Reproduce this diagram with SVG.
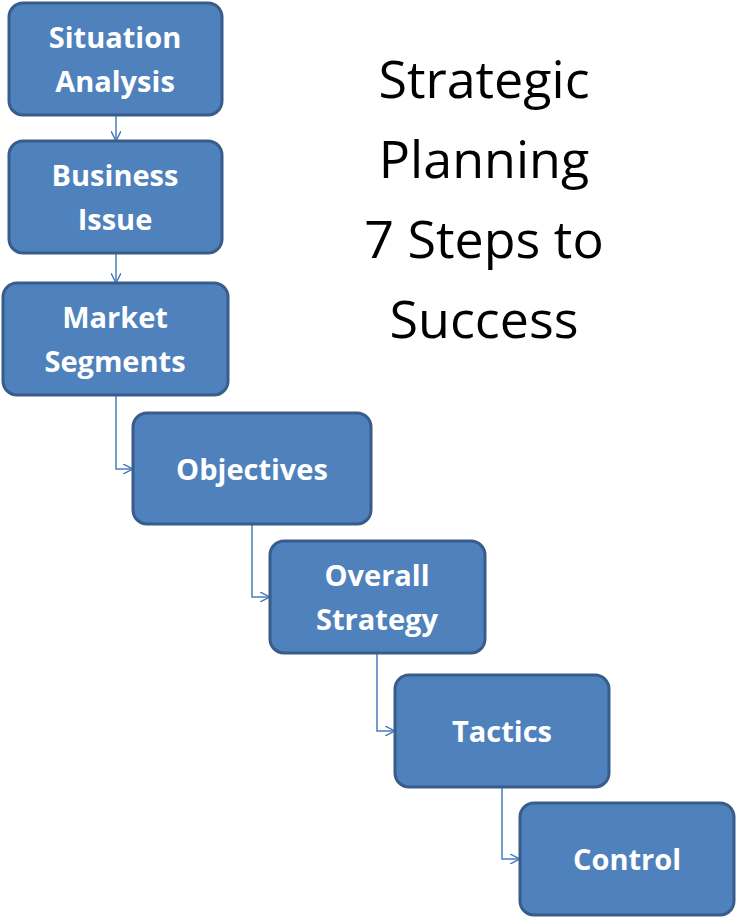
<svg xmlns="http://www.w3.org/2000/svg" width="737" height="919" viewBox="0 0 737 919">
<style>
.b{fill:#4F81BD;stroke:#385D8A;stroke-width:3}
.t{fill:#fff;font-family:"Open Sans","Liberation Sans",sans-serif;font-weight:bold;font-size:29px;text-anchor:middle}
.c{fill:none;stroke:#4A7EBB;stroke-width:1.5}
.h{font-family:"Open Sans","Liberation Sans",sans-serif;font-size:52px;text-anchor:middle;fill:#000}
</style>
<defs><marker id="a" viewBox="0 0 10 10" refX="9" refY="5" markerWidth="10" markerHeight="10" markerUnits="userSpaceOnUse" orient="auto"><path d="M0,0L10,5L0,10" fill="none" stroke="#4A7EBB" stroke-width="1.5"/></marker></defs>
<rect width="737" height="919" fill="#fff"/>
<g id="connectors">
<path class="c" d="M116,115V140" marker-end="url(#a)"/>
<path class="c" d="M116,253V282" marker-end="url(#a)"/>
<path class="c" d="M116,395V469H132" marker-end="url(#a)"/>
<path class="c" d="M252,524V597H269" marker-end="url(#a)"/>
<path class="c" d="M377,653V731H394" marker-end="url(#a)"/>
<path class="c" d="M502,787V859H519" marker-end="url(#a)"/>
</g>
<g id="n1"><rect class="b" x="9" y="3" width="213" height="112" rx="14"/><text class="t" x="115" y="48">Situation</text><text class="t" x="115" y="92">Analysis</text></g>
<g id="n2"><rect class="b" x="9" y="141" width="213" height="112" rx="14"/><text class="t" x="115" y="186">Business</text><text class="t" x="115" y="230">Issue</text></g>
<g id="n3"><rect class="b" x="3" y="283" width="225" height="112" rx="14"/><text class="t" x="115" y="328">Market</text><text class="t" x="115" y="372">Segments</text></g>
<g id="n4"><rect class="b" x="133" y="413" width="238" height="111" rx="14"/><text class="t" x="252" y="480">Objectives</text></g>
<g id="n5"><rect class="b" x="270" y="541" width="215" height="112" rx="14"/><text class="t" x="377" y="586">Overall</text><text class="t" x="377" y="630">Strategy</text></g>
<g id="n6"><rect class="b" x="395" y="675" width="214" height="112" rx="14"/><text class="t" x="502" y="742">Tactics</text></g>
<g id="n7"><rect class="b" x="520" y="803" width="214" height="112" rx="14"/><text class="t" x="627" y="870">Control</text></g>
<g id="title"><text class="h" x="484" y="98">Strategic</text><text class="h" x="484" y="178">Planning</text><text class="h" x="484" y="258">7 Steps to</text><text class="h" x="484" y="338">Success</text></g>
</svg>
